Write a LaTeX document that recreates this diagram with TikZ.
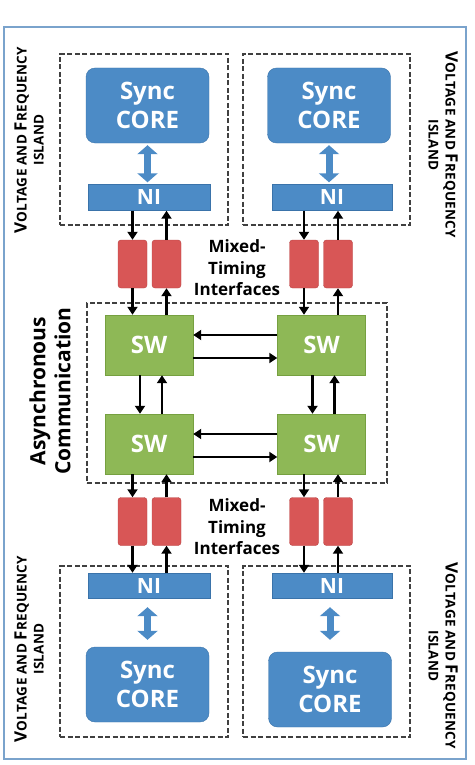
\documentclass[tikz,border=0pt]{standalone}
\usepackage{fontspec}
\setmainfont{Open Sans}
\usetikzlibrary{arrows.meta}

\definecolor{coreblue}{RGB}{76,139,198}
\definecolor{coreedge}{RGB}{58,115,170}
\definecolor{swgreen}{RGB}{142,184,86}
\definecolor{swedge}{RGB}{118,160,64}
\definecolor{mtired}{RGB}{216,86,86}
\definecolor{mtiedge}{RGB}{184,68,68}
\definecolor{framecol}{RGB}{122,163,204}

\newcommand\vfisland{{\fontsize{17}{17}\selectfont V}OLTAGE AND {\fontsize{17}{17}\selectfont F}REQUENCY\\{\fontsize{13.5}{17}\selectfont ISLAND}}

\tikzset{
	island/.style={draw=black!75, line width=2.3pt, dash pattern=on 5pt off 2.5pt, minimum width=168pt, minimum height=171pt},
	core/.style={draw=coreedge, fill=coreblue, rounded corners=9pt, text=white, align=center, font=\bfseries\fontsize{24}{29}\selectfont, minimum width=123pt, minimum height=75pt},
	nibox/.style={draw=coreedge, fill=coreblue, text=white, font=\bfseries\fontsize{21}{21}\selectfont, minimum width=122pt, minimum height=26pt, inner sep=0pt},
	mti/.style={draw=mtiedge, fill=mtired, rounded corners=3pt, minimum width=29pt, minimum height=48pt, inner sep=0pt},
	swbox/.style={draw=swedge, fill=swgreen, text=white, font=\bfseries\fontsize{24}{24}\selectfont, minimum width=88pt, minimum height=60pt},
	link/.style={-{Triangle[width=10pt,length=8pt]}, line width=2.6pt},
	dbl/.style={coreblue, line width=7pt, {Triangle[width=20pt,length=9pt]}-{Triangle[width=20pt,length=9pt]}},
	vflabel/.style={font=\bfseries\addfontfeature{LetterSpace=2}\fontsize{13.5}{17}\selectfont, align=center, inner sep=0pt},
	caption/.style={font=\bfseries\fontsize{17}{21.5}\selectfont, align=center, inner sep=0pt}
}

\begin{document}
\begin{tikzpicture}[x=1pt, y=-1pt]
	%%%%% FRAME %%%%%
	\useasboundingbox (0,0) rectangle (474,765);
	\draw[framecol, line width=2.5pt] (4,27) rectangle (466,759);

	%%%%% ISLANDS %%%%%
	\node[island] (islTL) at (144,139.5) {};
	\node[island, minimum width=167pt] (islTR) at (326.5,139.5) {};
	\node[island] (islBL) at (144,651.5) {};
	\node[island, minimum width=167pt] (islBR) at (326.5,651.5) {};

	\node[core] (coreTL) at (147.5,105.5) {Sync\\CORE};
	\node[core] (coreTR) at (329,105.5) {Sync\\CORE};
	\node[core] (coreBL) at (147.5,684.5) {Sync\\CORE};
	\node[core] (coreBR) at (330,689.5) {Sync\\CORE};

	\node[nibox] (niTL) at (149,197.5) {NI};
	\node[nibox, minimum width=120pt] (niTR) at (332,197.5) {NI};
	\node[nibox, minimum height=25pt] (niBL) at (149,585.5) {NI};
	\node[nibox, minimum width=120pt, minimum height=25pt] (niBR) at (332,585.5) {NI};

	\draw[dbl, shorten <=2pt, shorten >=2pt] (coreTL.south) -- (niTL.north -| coreTL);
	\draw[dbl, shorten <=2pt, shorten >=2pt] (coreTR.south) -- (niTR.north -| coreTR);
	\draw[dbl, shorten <=9pt, shorten >=7pt] (niBL.south -| coreBL) -- (coreBL.north);
	\draw[dbl, shorten <=9pt, shorten >=12pt] (niBR.south -| coreBR) -- (coreBR.north);

	\node[vflabel, rotate=90] (vfTL) at (29,140) {\vfisland};
	\node[vflabel, rotate=-90] (vfTR) at (443,145) {\vfisland};
	\node[vflabel, rotate=90] (vfBL) at (29,649) {\vfisland};
	\node[vflabel, rotate=-90] (vfBR) at (443,656) {\vfisland};

	%%%%% MIXED-TIMING INTERFACES %%%%%
	\node[mti] (mtiTL1) at (132.5,264) {};
	\node[mti] (mtiTL2) at (166.5,264) {};
	\node[mti] (mtiTR1) at (304,264) {};
	\node[mti] (mtiTR2) at (338,264) {};
	\node[mti] (mtiBL1) at (132.5,521.5) {};
	\node[mti] (mtiBL2) at (166.5,521.5) {};
	\node[mti] (mtiBR1) at (304,521.5) {};
	\node[mti] (mtiBR2) at (338,521.5) {};

	\node[caption] (mixT) at (237,268) {Mixed-\\Timing\\Interfaces};
	\node[caption] (mixB) at (237,527) {Mixed-\\Timing\\Interfaces};

	%%%%% ASYNCHRONOUS NETWORK %%%%%
	\node[island, minimum width=300pt, minimum height=180pt] (async) at (237,393) {};
	\node[font=\bfseries\fontsize{21}{25}\selectfont, align=center, rotate=90] (asyncT) at (50,391) {Asynchronous\\Communication};

	\node[swbox] (swTL) at (149,345) {SW};
	\node[swbox] (swTR) at (321.5,345) {SW};
	\node[swbox] (swBL) at (149,444) {SW};
	\node[swbox] (swBR) at (321.5,444) {SW};

	% switch links
	\draw[link] ([yshift=10pt]swTR.west) -- ([yshift=10pt]swTL.east);
	\draw[link] ([yshift=-13pt]swTL.east) -- ([yshift=-13pt]swTR.west);
	\draw[link] ([yshift=10pt]swBR.west) -- ([yshift=10pt]swBL.east);
	\draw[link] ([yshift=-13pt]swBL.east) -- ([yshift=-13pt]swBR.west);
	\draw[link] ([xshift=-9pt]swTL.south) -- ([xshift=-9pt]swBL.north);
	\draw[link] ([xshift=13pt]swBL.north) -- ([xshift=13pt]swTL.south);
	\draw[link] ([xshift=-9pt]swTR.south) -- ([xshift=-9pt]swBR.north);
	\draw[link] ([xshift=13pt]swBR.north) -- ([xshift=13pt]swTR.south);

	% top interfaces
	\foreach \s in {TL,TR}{
		\draw[link] (ni\s.south -| mti\s1) -- (mti\s1.north);
		\draw[link] (mti\s2.north) -- (ni\s.south -| mti\s2);
		\draw[link] (mti\s1.south) -- (sw\s.north -| mti\s1);
		\draw[link] (sw\s.north -| mti\s2) -- (mti\s2.south);
	}
	% bottom interfaces
	\foreach \s in {BL,BR}{
		\draw[link] (sw\s.south -| mti\s1) -- (mti\s1.north);
		\draw[link] (mti\s2.north) -- (sw\s.south -| mti\s2);
		\draw[link] (mti\s1.south) -- (ni\s.north -| mti\s1);
		\draw[link] (ni\s.north -| mti\s2) -- (mti\s2.south);
	}
\end{tikzpicture}
\end{document}
